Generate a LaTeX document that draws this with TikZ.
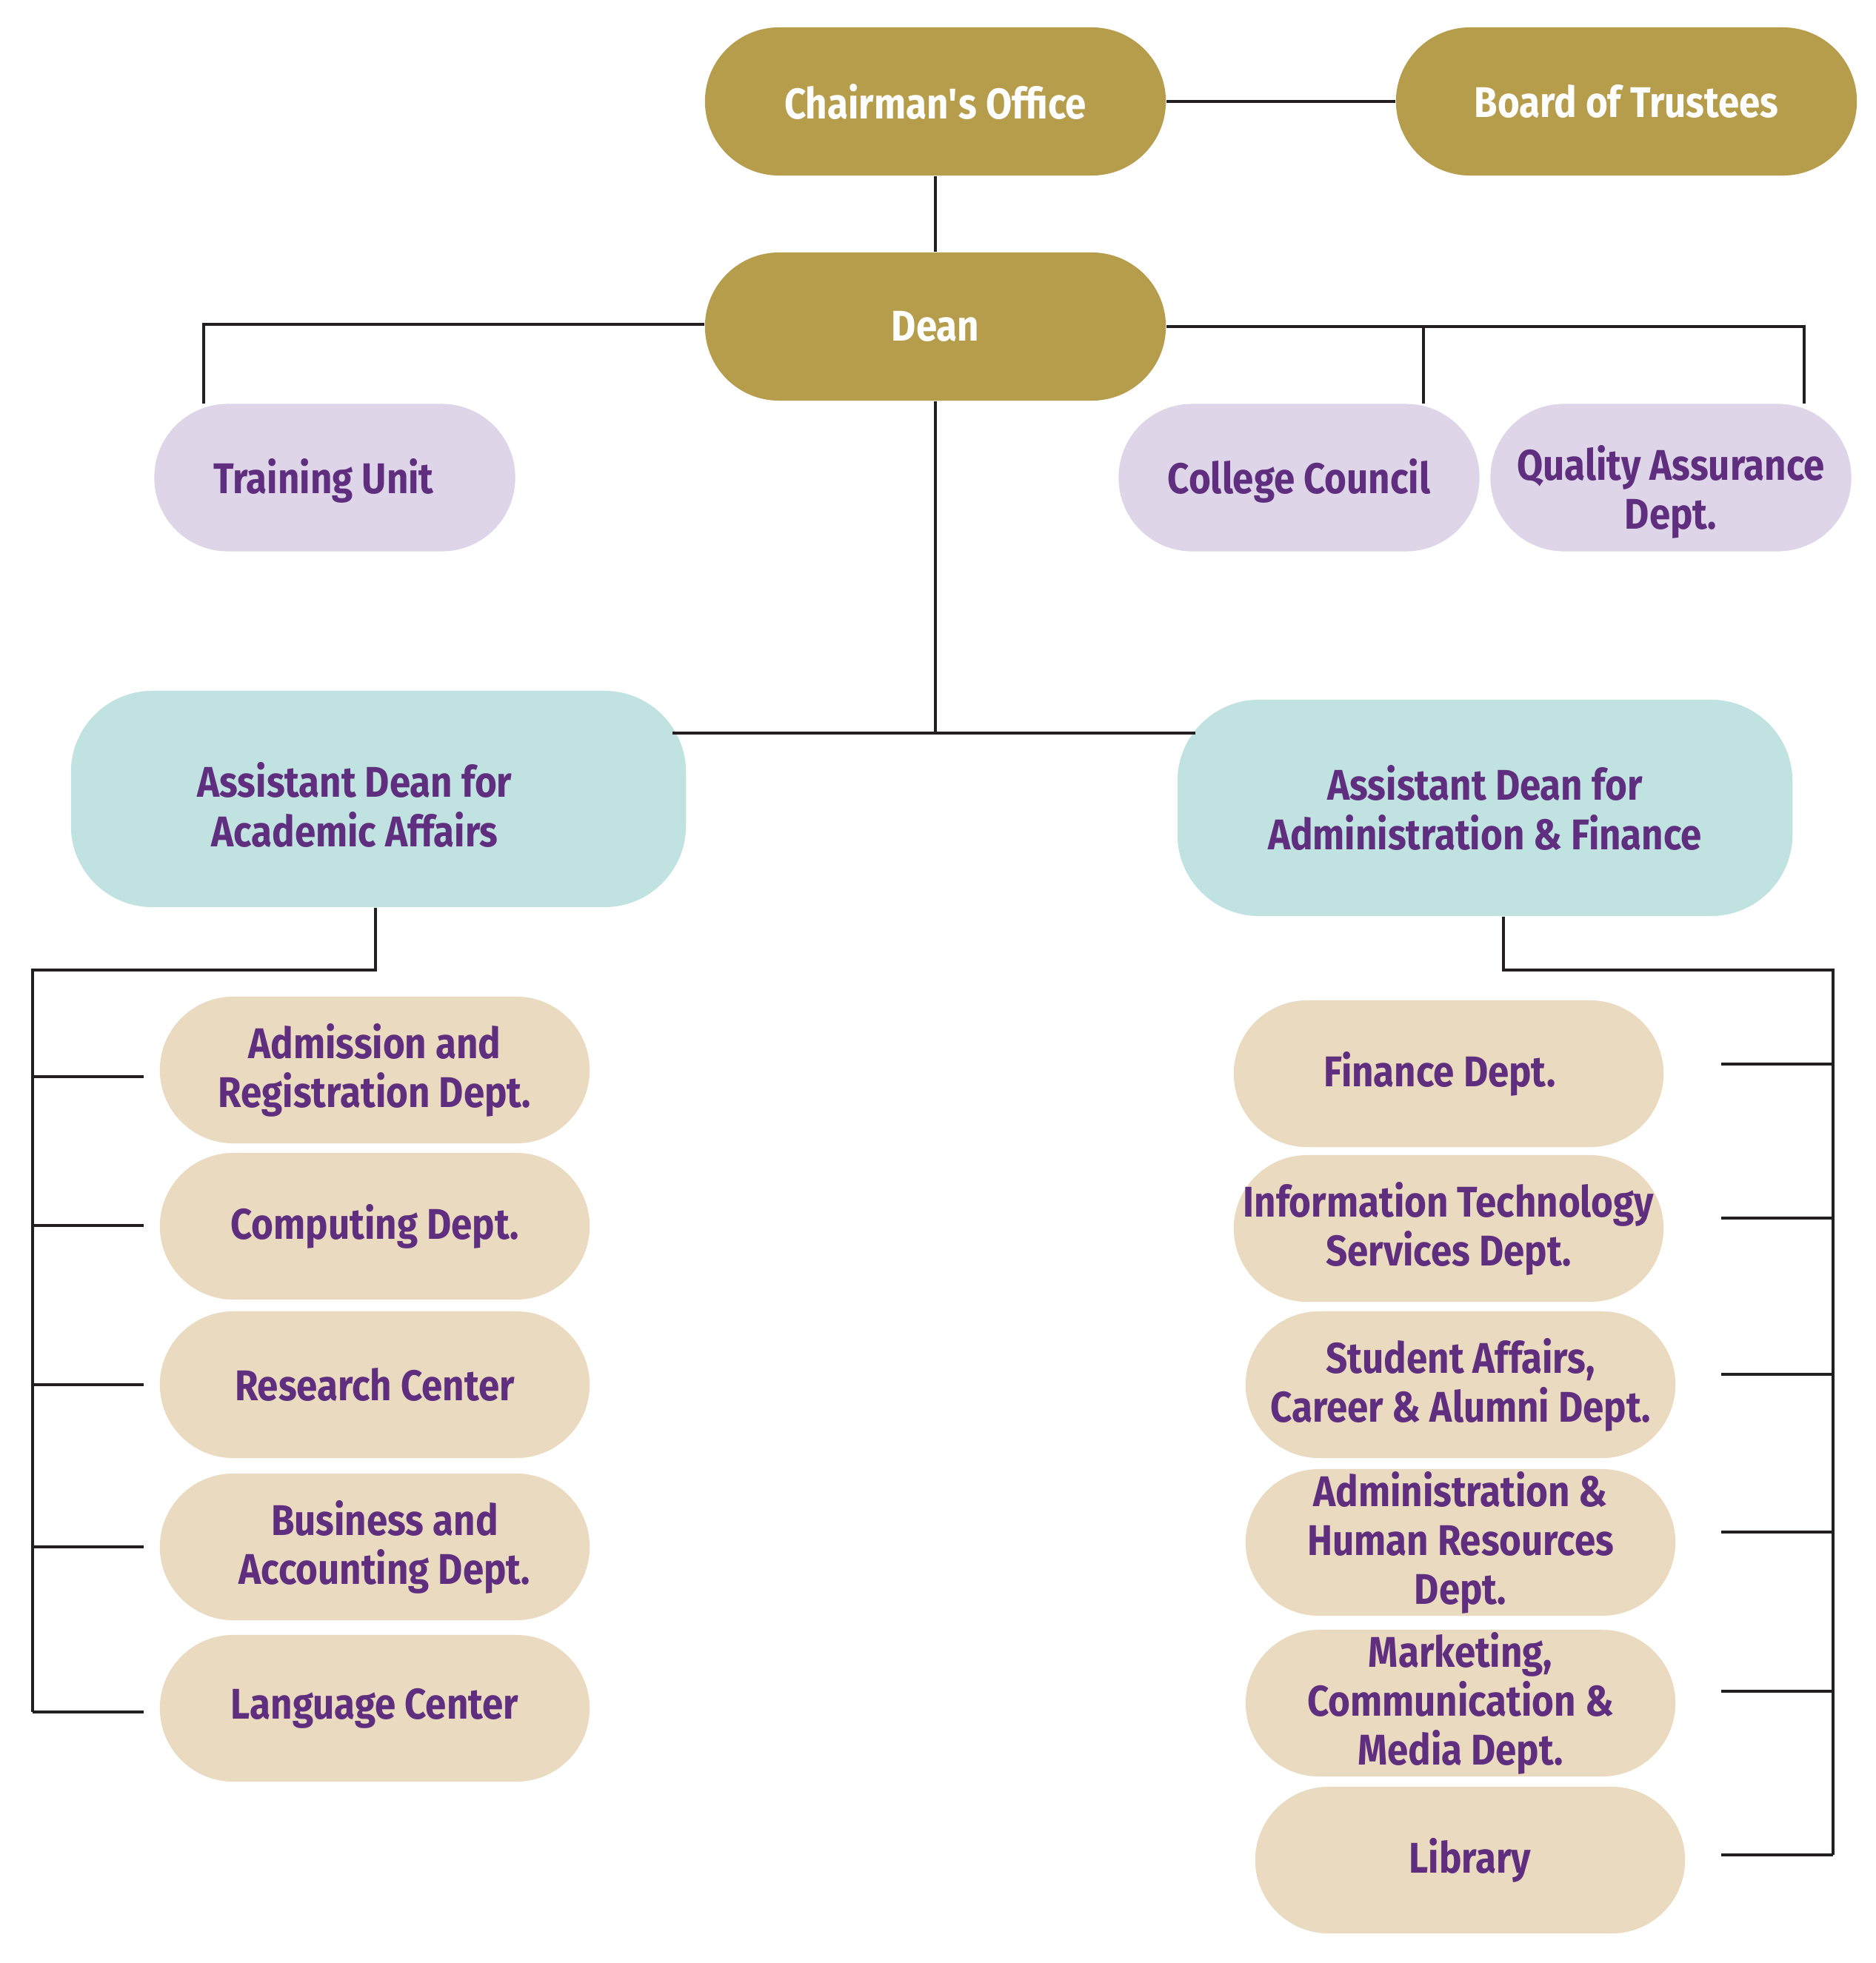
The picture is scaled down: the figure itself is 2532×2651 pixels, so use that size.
\documentclass[tikz,border=0pt]{standalone}
\usepackage{fontspec}
\setmainfont{Fira Sans}[FakeStretch=0.88]
\definecolor{goldbox}{HTML}{B59D4C}
\definecolor{lavbox}{HTML}{DED5E8}
\definecolor{tealbox}{HTML}{C0E2E0}
\definecolor{beigebox}{HTML}{E9DAC0}
\definecolor{txtp}{HTML}{5F2E7E}
\definecolor{lncol}{HTML}{231F20}
\tikzset{
  basebox/.style={rectangle, inner sep=0pt, align=center,
    font=\fontsize{16.5}{18.8}\selectfont\bfseries},
  topbox/.style={basebox, fill=goldbox, text=white, minimum width=6.22cm,
    minimum height=2cm, rounded corners=1cm},
  staffbox/.style={basebox, fill=lavbox, text=txtp, minimum width=4.87cm,
    minimum height=1.99cm, rounded corners=0.99cm},
  adbox/.style={basebox, fill=tealbox, text=txtp, minimum width=8.3cm,
    minimum height=2.92cm, rounded corners=1.1cm},
  deptbox/.style={basebox, fill=beigebox, text=txtp, minimum width=5.8cm,
    minimum height=1.98cm, rounded corners=0.99cm},
  plaintext/.style={basebox, text=txtp},
  conn/.style={draw=lncol, line width=1.2pt}
}
\begin{document}
\begin{tikzpicture}[x=0.01cm,y=-0.01cm]
\useasboundingbox[fill=white] (0,0) rectangle (2532,2651);
% top level
\node[topbox] (chair) at (1263,137) {Chairman\textquotesingle s Office};
\node[topbox] (board) at (2196,137) {Board of Trustees};
\node[topbox] (dean) at (1263,441) {Dean};
% staff units
\node[staffbox] (train) at (452,645) {};
\node[plaintext] (traintext) at (437,649) {Training Unit};
\node[staffbox] (council) at (1754,645) {};
\node[plaintext] (counciltext) at (1754,649) {College Council};
\node[staffbox] (qa) at (2256,645) {};
\node[plaintext] (qatext) at (2256,664) {Quality Assurance\\Dept.};
% assistant deans
\node[adbox] (ada) at (511,1079) {};
\node[plaintext] (adatext) at (479,1087) {Assistant Dean for\\Academic Affairs};
\node[adbox] (adf) at (2005,1091) {Assistant Dean for\\Administration \& Finance};
% academic departments
\node[deptbox] (adm) at (506,1445) {Admission and\\Registration Dept.};
\node[deptbox] (comp) at (506,1656) {Computing Dept.};
\node[deptbox] (res) at (506,1870) {Research Center};
\node[deptbox] (bus) at (506,2089) {\hspace*{0.27cm}Business and\\\hspace*{0.27cm}Accounting Dept.};
\node[deptbox] (lang) at (506,2307) {Language Center};
% administration departments
\node[deptbox] (fin) at (1956,1450) {\hspace*{-0.24cm}Finance Dept.};
\node[deptbox] (its) at (1956,1659) {Information Technology\\Services Dept.};
\node[deptbox] (stu) at (1972,1870) {Student Affairs,\\Career \& Alumni Dept.};
\node[deptbox] (hr) at (1972,2083) {Administration \&\\Human Resources\\Dept.};
\node[deptbox] (mkt) at (1972,2300) {Marketing,\\Communication \&\\Media Dept.};
\node[deptbox] (lib) at (1985,2512) {Library};
% coordinates
\coordinate (hub) at (1263,990);
\coordinate (hubL) at (908,990);
\coordinate (hubR) at (1614,990);
\coordinate (tl) at (275,438);
\coordinate (tr) at (2436,441);
\coordinate (tc) at (1922,441);
\coordinate (al) at (507,1310);
\coordinate (spL) at (44,1310);
\coordinate (fr) at (2030,1310);
\coordinate (spR) at (2475,1310);
\coordinate (la) at (194,1454);
\coordinate (lb) at (194,1655);
\coordinate (lc) at (194,1870);
\coordinate (ld) at (194,2089);
\coordinate (le) at (194,2312);
\coordinate (ra) at (2324,1437);
\coordinate (rb) at (2324,1645);
\coordinate (rc) at (2324,1856);
\coordinate (rd) at (2324,2069);
\coordinate (re) at (2324,2284);
\coordinate (rf) at (2324,2505);
% connectors
\draw[conn] (chair.east) -- (board.west);
\draw[conn] (chair.south) -- (dean.north);
\draw[conn] (dean.west |- tl) -- (tl) -- (tl |- train.north);
\draw[conn] (dean.east |- tr) -- (tr) -- (tr |- qa.north);
\draw[conn] (tc) -- (tc |- council.north);
\draw[conn] (dean.south) -- (hub);
\draw[conn] (hubL) -- (hubR);
% academic branch
\draw[conn] (ada.south -| al) -- (al) -- (spL) -- (spL |- le);
\foreach \n in {la,lb,lc,ld,le}
  \draw[conn] (spL |- \n) -- (\n);
% administration branch
\draw[conn] (adf.south -| fr) -- (fr) -- (spR) -- (spR |- rf);
\foreach \n in {ra,rb,rc,rd,re,rf}
  \draw[conn] (\n) -- (spR |- \n);
\end{tikzpicture}
\end{document}
